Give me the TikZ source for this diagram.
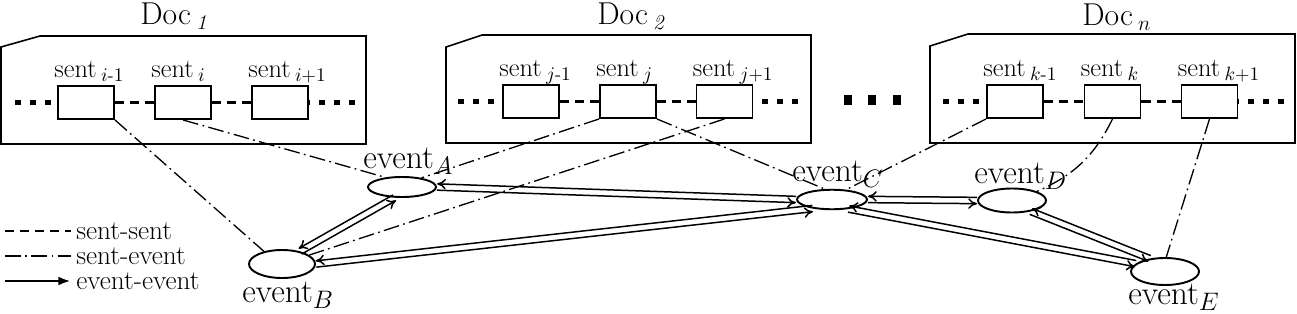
\documentclass[tikz,border=0pt]{standalone}
\usepackage{amsmath}
\usetikzlibrary{shapes.geometric,calc,arrows.meta}

% two opposite arrows side by side between two events
\newcommand{\evpair}[2]{%
  \draw[evline] ($(#1)!1.8pt!-90:(#2)$) -- ($(#2)!1.8pt!90:(#1)$);
  \draw[evline] ($(#2)!1.8pt!-90:(#1)$) -- ($(#1)!1.8pt!90:(#2)$);
}

\begin{document}
\begin{tikzpicture}[x=0.02cm, y=-0.02cm,
    sentbox/.style={draw, line width=1.1pt, minimum width=1.12cm, minimum height=0.66cm, inner sep=0pt},
    evnode/.style={draw, ellipse, line width=1.1pt, inner sep=0pt},
    sentlbl/.style={anchor=base west, inner sep=0pt, font=\fontsize{15}{17}\selectfont},
    evlbl/.style={anchor=base west, inner sep=0pt, font=\fontsize{19}{21}\selectfont},
    doclbl/.style={anchor=base west, inner sep=0pt, font=\fontsize{18}{20}\selectfont},
    legendlbl/.style={anchor=west, inner sep=0pt, font=\fontsize{15.5}{17}\selectfont},
    frame/.style={line width=0.9pt},
    sslink/.style={line width=1.3pt, dash pattern=on 5.2pt off 3.4pt},
    selink/.style={line width=0.75pt, dash pattern=on 9pt off 2.5pt on 1pt off 2.5pt},
    evline/.style={line width=0.85pt, -{To[length=5pt,width=6pt]}},
    sqdots/.style={line width=3.4pt, dash pattern=on 3.4pt off 5.1pt}]
  \useasboundingbox (0,0) rectangle (1297,314);

  % Documents
  \draw[frame] (1,47) -- (40,36) -- (366,36) -- (366,144) -- (1,144) -- cycle;
  \draw[frame] (446,47) -- (482,35) -- (811,35) -- (811,143) -- (446,143) -- cycle;
  \draw[frame] (930,46) -- (968,34) -- (1295,34) -- (1295,143) -- (930,143) -- cycle;
  \node[doclbl] (doc1) at (140,25) {Doc\,$_{\mathit{1}}$};
  \node[doclbl] (doc2) at (597,25) {Doc\,$_{\mathit{2}}$};
  \node[doclbl] (docn) at (1082,26) {Doc\,$_{n}$};

  % Sentences
  \node[sentbox] (s1a) at (86,102.5) {};
  \node[sentbox] (s1b) at (183,102.5) {};
  \node[sentbox] (s1c) at (280,102.5) {};
  \node[sentbox] (s2a) at (531,101.5) {};
  \node[sentbox] (s2b) at (628,101.5) {};
  \node[sentbox] (s2c) at (724.5,101.5) {};
  \node[sentbox] (s3a) at (1015,101.5) {};
  \node[sentbox] (s3b) at (1112.5,101.5) {};
  \node[sentbox] (s3c) at (1209.5,101.5) {};
  \node[sentlbl] (t1a) at ([xshift=-1.7pt,yshift=4.5pt]s1a.north west) {sent\,$_{i\text{-}1}$};
  \node[sentlbl] (t1b) at ([xshift=-1.7pt,yshift=4.5pt]s1b.north west) {sent\,$_{i}$};
  \node[sentlbl] (t1c) at ([xshift=-1.7pt,yshift=4.5pt]s1c.north west) {sent\,$_{i\text{+}1}$};
  \node[sentlbl] (t2a) at ([xshift=-1.7pt,yshift=4.5pt]s2a.north west) {sent\,$_{j\text{-}1}$};
  \node[sentlbl] (t2b) at ([xshift=-1.7pt,yshift=4.5pt]s2b.north west) {sent\,$_{j}$};
  \node[sentlbl] (t2c) at ([xshift=-1.7pt,yshift=4.5pt]s2c.north west) {sent\,$_{j\text{+}1}$};
  \node[sentlbl] (t3a) at ([xshift=-1.7pt,yshift=4.5pt]s3a.north west) {sent\,$_{k\text{-}1}$};
  \node[sentlbl] (t3b) at ([xshift=-1.7pt,yshift=4.5pt]s3b.north west) {sent\,$_{k}$};
  \node[sentlbl] (t3c) at ([xshift=-1.7pt,yshift=4.5pt]s3c.north west) {sent\,$_{k\text{+}1}$};

  % sent-sent
  \draw[sslink] (s1a) -- (s1b);
  \draw[sslink] (s1b) -- (s1c);
  \draw[sslink] (s2a) -- (s2b);
  \draw[sslink] (s2b) -- (s2c);
  \draw[sslink] (s3a) -- (s3b);
  \draw[sslink] (s3b) -- (s3c);

  % Dots
  \coordinate (l1) at (15,102.5);
  \coordinate (r1) at (355,102.5);
  \coordinate (l2) at (458,101.5);
  \coordinate (r2) at (798,101.5);
  \coordinate (l3) at (943,101.5);
  \coordinate (r3) at (1284,101.5);
  \draw[sqdots] (l1) -- (s1a.west);
  \draw[sqdots] (r1) -- (s1c.east);
  \draw[sqdots] (l2) -- (s2a.west);
  \draw[sqdots] (r2) -- (s2c.east);
  \draw[sqdots] (l3) -- (s3a.west);
  \draw[sqdots] (r3) -- (s3c.east);
  \draw[line width=5.7pt, dash pattern=on 4.5pt off 9.4pt] (844,100) -- (902,100);

  % Events
  \node[evnode, minimum width=1.36cm, minimum height=0.4cm] (A) at (402,187) {};
  \node[evnode, minimum width=1.32cm, minimum height=0.56cm] (B) at (282,264) {};
  \node[evnode, minimum width=1.40cm, minimum height=0.39cm] (C) at (832,199.5) {};
  \node[evnode, minimum width=1.36cm, minimum height=0.48cm] (D) at (1012,200.5) {};
  \node[evnode, minimum width=1.36cm, minimum height=0.54cm] (E) at (1165,271.5) {};
  \node[evlbl] (la) at (363,168) {event$_{A}$};
  \node[evlbl] (lb) at (242,302) {event$_{B}$};
  \node[evlbl] (lc) at (792,181) {event$_{C}$};
  \node[evlbl] (ld) at (974,183) {event$_{D}$};
  \node[evlbl] (le) at (1128,304) {event$_{E}$};

  % sent-event
  \draw[selink] (s1a.south east) -- (B.145);
  \draw[selink] (s1b.south) -- (A.150);
  \draw[selink] (s2b.south west) -- (A.25);
  \draw[selink] (s2c.south) -- (B);
  \draw[selink] (s2b.south east) -- (C.125);
  \draw[selink] (s3a.south west) -- (C.35);
  \draw[selink] (s3b.south) to[bend left=20] (D.20);
  \draw[selink] (s3c.south) -- (E.85);

  % event-event
  \evpair{A.east}{C.west}
  \evpair{B.35}{A.235}
  \evpair{B.east}{C.205}
  \evpair{C.east}{D.west}
  \evpair{C.330}{E.165}
  \evpair{D.330}{E.140}

  % Legend
  \coordinate (g1) at (5,231);
  \coordinate (g2) at (5,256);
  \coordinate (g3) at (5,281);
  \node[legendlbl] (lss) at (76,231) {sent-sent};
  \node[legendlbl] (lse) at (76,256) {sent-event};
  \node[legendlbl] (lee) at (76,281) {event-event};
  \draw[sslink, line width=1.3pt, shorten >=3pt] (g1) -- (lss.west);
  \draw[selink, line width=1.3pt, shorten >=3pt] (g2) -- (lse.west);
  \draw[line width=1.3pt, shorten >=3pt, -{Latex[length=7pt,width=5pt]}] (g3) -- (lee.west);
\end{tikzpicture}
\end{document}
